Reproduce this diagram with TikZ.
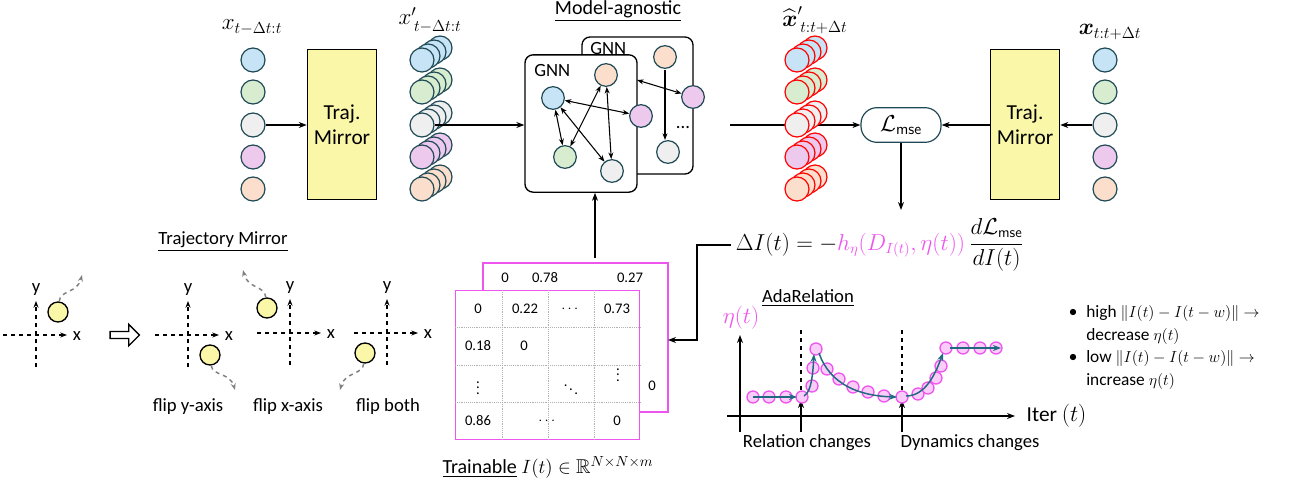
\documentclass[tikz,border=0pt]{standalone}
\usepackage{fontspec}
\setmainfont{Carlito}
\usepackage{amsmath,amssymb}
\usetikzlibrary{arrows.meta,shapes.arrows}
\definecolor{cB}{HTML}{C6E4F5}\definecolor{cG}{HTML}{D8EDD0}\definecolor{cW}{HTML}{EFEFEF}
\definecolor{cP}{HTML}{EDC9EE}\definecolor{cO}{HTML}{FBDFCC}\definecolor{edge}{HTML}{1F4A55}
\definecolor{mag}{HTML}{EE55EE}\definecolor{teal2}{HTML}{1F6A80}\definecolor{yel}{HTML}{FAF7A8}
\begin{document}
\begin{tikzpicture}[x=0.75pt,y=-0.75pt,font=\fontsize{14}{16}\selectfont,
 dot/.style={circle,draw=edge,line width=0.9pt,minimum size=18pt,inner sep=0pt},
 gdot/.style={circle,draw=edge,line width=0.9pt,minimum size=17pt,inner sep=0pt},
 arr/.style={-{Stealth[length=6pt]},line width=0.9pt},
 darr/.style={{Stealth[length=5pt]}-{Stealth[length=5pt]},line width=0.8pt},
 tm/.style={draw=black,fill=yel,line width=0.9pt,minimum width=52pt,minimum height=113pt,align=center,font=\fontsize{16}{19}\selectfont},
 gbox/.style={draw=black,fill=white,rounded corners=6pt,line width=1pt},
 mbox/.style={draw=mag,fill=white,line width=1.2pt},
 pt/.style={circle,draw=mag,fill=mag!30,line width=1pt,minimum size=9pt,inner sep=0pt},
 tarr/.style={-{Stealth[length=6pt]},draw=teal2,line width=1.1pt},
 ydot/.style={circle,draw=black,fill=yel,line width=1pt,minimum size=15pt,inner sep=0pt},
 ax/.style={-{Stealth[length=5pt]},dashed,line width=1pt},
 garr/.style={-{Stealth[length=5pt]},dashed,draw=gray,line width=1.1pt},
 lab/.style={font=\fontsize{17}{20}\selectfont},
 ul/.style={font=\fontsize{14}{17}\selectfont}]
\useasboundingbox (0,0) rectangle (1300,482);
% left column
\node[lab] at (252,27) {$x_{t-\Delta t:t}$};
\foreach \c/\y/\n in {cB/60/a1,cG/92/a2,cW/125/a3,cP/157/a4,cO/189/a5}
  \node[dot,fill=\c] (\n) at (253,\y) {};
\node[tm] (tm1) at (342,124.5) {Traj.\\Mirror};
\draw[arr] (a3) -- (tm1.west|-a3);
% stacked x'
\node[lab] at (430,20) {$x'_{\,t-\Delta t:t}$};
\foreach \c/\y/\n in {cB/60/b1,cG/92/b2,cW/125/b3,cP/157/b4,cO/189/b5}{
  \foreach \k in {3,2,1}
    \node[dot,fill=\c] at (422+6*\k,\y-4*\k) {};
  \node[dot,fill=\c] (\n) at (422,\y) {};}
% GNN
\node[font=\fontsize{15}{18}\selectfont] (ma) at (618,11) {\underline{Model-agnostic}};
\draw[gbox] (582,37) rectangle (693,174);
\node[anchor=north west,inner sep=0pt] at (590,42) {GNN};
\node[gdot,fill=cO] (q1) at (665,57) {};
\node[gdot,fill=cP] (q2) at (693,97) {};
\node[gdot,fill=cW] (q3) at (668,152) {};
\node at (683,128) {...};
\node[gbox,minimum width=84pt,minimum height=103pt,inner sep=0pt] (gnn) at (581,123.5) {};
\node[anchor=north west,inner sep=0pt] at (534,64) {GNN};
\node[gdot,fill=cB] (n1) at (553,98) {};
\node[gdot,fill=cO] (n2) at (606,75) {};
\node[gdot,fill=cP] (n3) at (641,116) {};
\node[gdot,fill=cG] (n4) at (565,157) {};
\node[gdot,fill=cW] (n5) at (612,171) {};
\draw[darr] (n1)--(n3); \draw[darr] (n1)--(n4); \draw[darr] (n1)--(n5);
\draw[darr] (n2)--(n4); \draw[darr] (n2)--(n5);
\draw[darr] (637,80)--(q2);
\draw[line width=0.8pt,-{Stealth[length=5pt]}] (665,70)--(665,140);
\draw[arr] (b3.east) -- (gnn.west|-b3.east);
% predicted stacked
\node[lab] at (815,20) {$\widehat{\boldsymbol{x}}'_{\,t:t+\Delta t}$};
\node[draw=edge,rounded corners=12pt,line width=0.9pt,minimum width=60pt,minimum height=26pt,font=\fontsize{17}{19}\selectfont] (L) at (901,125) {$\mathcal{L}_{\textsf{mse}}$};
\coordinate (gr) at (730,125);
\draw[arr] (gr) -- (L.west);
\foreach \c/\y in {cB/60,cG/92,cW/125,cP/157,cO/189}{
  \foreach \k in {3,2,1}
    \node[dot,draw=red,fill=\c] at (797+6*\k,\y-4*\k) {};
  \node[dot,draw=red,fill=\c] at (797,\y) {};}
% right
\node[lab] at (1110,32) {$\boldsymbol{x}_{t:t+\Delta t}$};
\foreach \c/\y/\n in {cB/60/r1,cG/92/r2,cW/125/r3,cP/157/r4,cO/189/r5}
  \node[dot,fill=\c] (\n) at (1105,\y) {};
\node[tm] (tm2) at (1025,124.5) {Traj.\\Mirror};
\draw[arr] (r3) -- (tm2.east|-r3);
\draw[arr] (tm2.west|-L) -- (L);
\coordinate (eqt) at (901,210);
\draw[arr] (L) -- (eqt);
\node[font=\fontsize{16}{19}\selectfont] (eq) at (880,245) {$\Delta I(t) = -{\color{mag}h_\eta(D_{I(t)},\eta(t))}\,\dfrac{d\mathcal{L}_{\textsf{mse}}}{dI(t)}$};
% matrices
\draw[mbox] (483,263) rectangle (668,412);
\foreach \x/\t in {505/0,545/0.78,630/0.27} \node[font=\fontsize{11}{13}\selectfont] at (\x,278) {\t};
\node[font=\fontsize{11}{13}\selectfont] at (652,386) {0};
\node[mbox,minimum width=138pt,minimum height=112pt,inner sep=0pt] (mat) at (547.5,365) {};
\foreach \x in {502,548,594} \draw[densely dotted,gray!60] (\x,290)--(\x,440);
\foreach \y in {327,365,402} \draw[densely dotted,gray!60] (455,\y)--(640,\y);
\begin{scope}[font=\fontsize{11}{13}\selectfont]
\node at (478,309) {0}; \node at (525,309) {0.22}; \node at (571,309) {$\cdots$}; \node at (617,309) {0.73};
\node at (478,346) {0.18}; \node at (524,346) {0};
\node at (478,384) {$\vdots$}; \node at (571,386) {$\ddots$}; \node at (618,371) {$\vdots$};
\node at (478,421) {0.86}; \node at (548,421) {$\cdots$}; \node at (617,421) {0};
\end{scope}
\node[font=\fontsize{15}{18}\selectfont] at (548,467) {\underline{Trainable} $I(t)\in\mathbb{R}^{N\times N\times m}$};
\coordinate (mt) at (595,258);
\draw[arr] (mt) -- (gnn.south-|mt);
\coordinate (c1) at (697,245);
\draw[arr] (eq.west) -- (c1) -- (697,340) -- (668,340);
% Trajectory mirror panel
\node[ul] at (223,242) {\underline{Trajectory Mirror}};
\foreach \ox/\oy/\cx/\cy/\gx/\gy [count=\i] in {36/335/58/312/82/275, 188/335/210/355/235/390, 290/333/267/308/243/270, 387/333/365/353/340/390}{
  \draw[ax] (\ox-33,\oy)--(\ox+31,\oy);
  \draw[ax] (\ox,\oy+32)--(\ox,\oy-34);
  \node at (\ox,\oy-45) {y};
  \node at (\ox+41,\oy+1) {x};
  \node[ydot] (y\i) at (\cx,\cy) {};
  \draw[garr] (y\i) .. controls ({\cx+(\gx-\cx)*0.1},{\cy+(\gy-\cy)*0.6}) and ({\cx+(\gx-\cx)*0.8},{\cy+(\gy-\cy)*0.5}) .. (\gx,\gy);
}
\node[single arrow,draw=black,line width=1pt,minimum height=22pt,minimum width=16pt,single arrow head extend=3pt,inner sep=1pt] at (123,335) {};
\node at (188,407) {flip y-axis};
\node at (288,407) {flip x-axis};
\node at (388,407) {flip both};
% AdaRelation
\node[ul] at (808,298) {\underline{AdaRelation}};
\draw[arr] (740,432)--(740,335);
\draw[arr] (727,416)--(1015,416);
\node[anchor=west] at (1022,416) {\fontsize{16}{19}\selectfont Iter $(t)$};
\node[mag,font=\fontsize{16}{19}\selectfont] at (741,318) {$\eta(t)$};
\draw[dashed,line width=0.9pt] (801,330)--(801,395);
\draw[dashed,line width=0.9pt] (902,330)--(902,395);
\draw[arr] (801,432)--(801,400);
\draw[arr] (902,432)--(902,400);
\node at (807,443) {Relation changes};
\node at (970,443) {Dynamics changes};
\foreach \x/\y in {753/397,769/397,786/397,802/397,812/386,813/368,816/349,827/369,839/379,853/387,868/392,884/396,902/397,918/394,928/388,936/378,941/366,946/348,963/348,980/348,996/348}
  \node[pt] at (\x,\y) {};
\draw[tarr] (753,397)--(797,397);
\draw[tarr] (804,396) .. controls (812,392) and (813,370) .. (814,354);
\draw[tarr] (819,353) .. controls (830,385) and (860,396) .. (897,397);
\draw[tarr] (906,396) .. controls (925,396) and (935,375) .. (943,353);
\draw[tarr] (950,348)--(1001,348);
\begin{scope}[font=\fontsize{13}{15}\selectfont]
\node at (1073,313) {$\bullet$}; \node at (1073,358) {$\bullet$};
\node[anchor=west,inner sep=0pt] at (1086,313) {high $\|I(t)-I(t-w)\|\rightarrow$};
\node[anchor=west,inner sep=0pt] at (1086,336) {decrease $\eta(t)$};
\node[anchor=west,inner sep=0pt] at (1086,358) {low $\|I(t)-I(t-w)\|\rightarrow$};
\node[anchor=west,inner sep=0pt] at (1086,381) {increase $\eta(t)$};
\end{scope}
\end{tikzpicture}
\end{document}
